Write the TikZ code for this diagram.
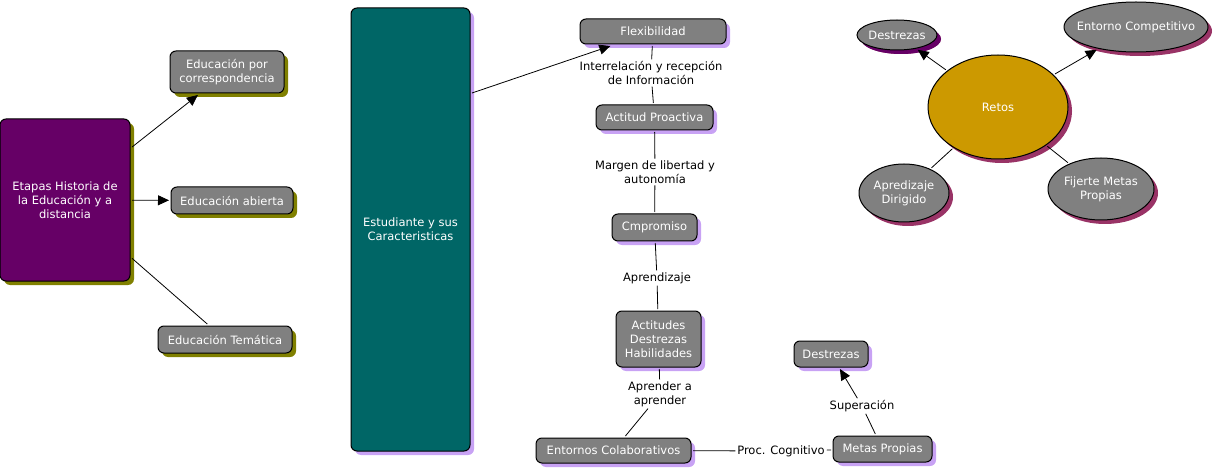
\documentclass[tikz,border=0pt]{standalone}
\usepackage{fontspec}
\setmainfont{DejaVu Sans}
\usetikzlibrary{shapes.geometric,shadows,arrows.meta}
\definecolor{etapa}{HTML}{660066}
\definecolor{estud}{HTML}{006666}
\definecolor{grisnodo}{HTML}{808080}
\definecolor{olivo}{HTML}{808000}
\definecolor{lila}{HTML}{C8A2F4}
\definecolor{vino}{HTML}{993366}
\definecolor{oro}{HTML}{CC9900}

\begin{document}
\begin{tikzpicture}[x=1pt,y=-1pt,font=\fontsize{11.5}{14}\selectfont,
  box/.style={draw=black,line width=1pt,rounded corners=6pt,text=white,align=center,inner sep=2pt,outer sep=2pt},
  gbox/.style={box,fill=grisnodo},
  oshad/.style={drop shadow={shadow xshift=4pt,shadow yshift=-4pt,fill=olivo,opacity=1}},
  lshad/.style={drop shadow={shadow xshift=4pt,shadow yshift=-4pt,fill=lila,opacity=1}},
  oval/.style={ellipse,draw=black,line width=1pt,fill=grisnodo,text=white,align=center,inner sep=1pt,outer sep=2pt,
    drop shadow={shadow xshift=4pt,shadow yshift=-4pt,fill=vino,opacity=1}},
  rel/.style={fill=white,align=center,inner sep=1pt,outer sep=1pt},
  link/.style={line width=0.8pt},
  flecha/.style={link,-{Triangle[length=11pt,width=10pt]}}]
  \useasboundingbox (0,0) rectangle (1214,470);

  \node[box,fill=etapa,oshad,minimum width=130pt,minimum height=162pt] (etapas) at (65,200)
    {Etapas Historia de\\la Educación y a\\distancia};
  \node[gbox,oshad,minimum width=114pt,minimum height=42pt] (corresp) at (227,72)
    {Educación por\\correspondencia};
  \node[gbox,oshad,minimum width=122pt,minimum height=27pt] (abierta) at (232,200.5) {Educación abierta};
  \node[gbox,oshad,minimum width=134pt,minimum height=27pt] (tematica) at (225,339.5) {Educación Temática};

  \node[box,fill=estud,lshad,minimum width=119pt,minimum height=443pt] (estud) at (410.5,229.5)
    {Estudiante y sus\\Caracteristicas};
  \node[gbox,lshad,minimum width=146pt,minimum height=25pt] (flex) at (653,31.5) {Flexibilidad};
  \node[gbox,lshad,minimum width=117pt,minimum height=25pt] (proact) at (654.5,117.5) {Actitud Proactiva};
  \node[gbox,lshad,minimum width=85pt,minimum height=27pt] (cmpro) at (654.5,227.5) {Cmpromiso};
  \node[gbox,lshad,minimum width=85pt,minimum height=56pt] (actit) at (658.5,339)
    {Actitudes\\Destrezas\\Habilidades};
  \node[gbox,lshad,minimum width=155pt,minimum height=25pt] (entornos) at (613.5,450.5) {Entornos Colaborativos};
  \node[gbox,lshad,minimum width=99pt,minimum height=26pt] (metas) at (882.5,449) {Metas Propias};
  \node[gbox,lshad,minimum width=74pt,minimum height=26pt] (destrb) at (831,354) {Destrezas};

  \node[oval,fill=oro,minimum width=140pt,minimum height=104pt] (retos) at (998,107) {Retos};
  \node[oval,drop shadow={shadow xshift=4pt,shadow yshift=-4pt,fill=etapa,opacity=1},
    inner xsep=-8pt,minimum width=80pt,minimum height=30pt] (destrt) at (897,35) {Destrezas};
  \node[oval,inner xsep=-22pt,minimum width=144pt,minimum height=50pt] (entcomp) at (1136,27) {Entorno Competitivo};
  \node[oval,inner sep=-3pt,minimum width=90pt,minimum height=58pt] (apred) at (904,193) {Apredizaje\\Dirigido};
  \node[oval,inner sep=-4pt,minimum width=106pt,minimum height=62pt] (fijerte) at (1101,189) {Fijerte Metas\\Propias};

  \node[rel] (l1) at (651,73) {Interrelación y recepción\\de Información};
  \node[rel] (l2) at (655,172) {Margen de libertad y\\autonomía};
  \node[rel] (l3) at (657,278) {Aprendizaje};
  \node[rel] (l4) at (660,394) {Aprender a\\aprender};
  \node[rel] (l5) at (781,451) {Proc. Cognitivo};
  \node[rel] (l6) at (862,406) {Superación};

  \draw[flecha] (etapas) -- (corresp);
  \draw[flecha] (etapas) -- (abierta);
  \draw[link] (etapas) -- (tematica);
  \draw[flecha] (estud.east |- 0,93) -- (flex);
  \draw[link] (flex) -- (l1);
  \draw[link] (l1) -- (proact);
  \draw[link] (proact) -- (l2);
  \draw[link] (l2) -- (cmpro);
  \draw[link] (cmpro) -- (l3);
  \draw[link] (l3) -- (actit);
  \draw[link] (actit) -- (l4);
  \draw[link] (l4) -- (entornos);
  \draw[link] (entornos) -- (l5);
  \draw[link] (l5) -- (metas);
  \draw[link] (metas) -- (l6);
  \draw[flecha] (l6) -- (destrb);
  \draw[flecha] (retos) -- (destrt);
  \draw[flecha] (retos) -- (entcomp);
  \draw[link] (retos) -- (apred);
  \draw[link] (retos) -- (fijerte);
\end{tikzpicture}
\end{document}
